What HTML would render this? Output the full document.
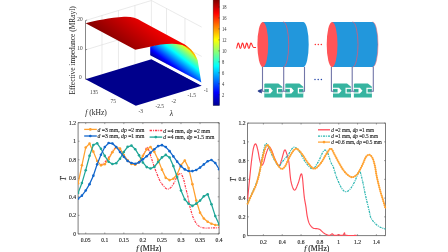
<!DOCTYPE html><html><head><meta charset="utf-8"><title>Figure</title><style>html,body{margin:0;padding:0;background:#fff;width:448px;height:252px;overflow:hidden}svg{display:block}text{font-family:"Liberation Serif","Times New Roman",serif}.s text{stroke:#222;stroke-width:0.12px}</style></head><body><svg width="448" height="252" viewBox="0 0 448 252"><defs><clipPath id="clipL"><rect x="78.1" y="122.7" width="141.0" height="111.2"/></clipPath></defs><path d="M85.50 49.85L151.40 29.85L201.70 56.45 M85.50 20.50L151.40 0.50L201.70 27.10 M101.97 74.20L101.97 15.50 M118.45 69.20L118.45 10.50 M134.93 64.20L134.93 5.50 M151.40 59.20L151.40 0.50 M166.49 67.18L166.49 8.48 M184.95 76.94L184.95 18.24" stroke="#dcdcdc" stroke-width="0.6" fill="none"/><path d="M85.50 79.20L85.50 20.50" stroke="#555" stroke-width="0.7" fill="none"/><path d="M85.50 79.20l1.6 -0.5" stroke="#555" stroke-width="0.6"/><path d="M85.50 49.85l1.6 -0.5" stroke="#555" stroke-width="0.6"/><path d="M85.50 20.50l1.6 -0.5" stroke="#555" stroke-width="0.6"/><path d="M85.50 79.20L151.40 59.20L201.70 85.80L135.80 105.80Z" fill="#00008c"/><defs><linearGradient id="gred" x1="110" y1="38.75" x2="135.8" y2="4.35" gradientUnits="userSpaceOnUse"><stop offset="0" stop-color="#8a0000"/><stop offset="0.55" stop-color="#cc0000"/><stop offset="0.85" stop-color="#f20000"/><stop offset="1" stop-color="#ff0a00"/></linearGradient><linearGradient id="gslope" x1="149.53" y1="55.61" x2="178.68" y2="17.32" gradientUnits="userSpaceOnUse"><stop offset="0" stop-color="#000080"/><stop offset="0.125" stop-color="#0000ff"/><stop offset="0.375" stop-color="#00ffff"/><stop offset="0.625" stop-color="#ffff00"/><stop offset="0.875" stop-color="#ff0000"/><stop offset="1" stop-color="#800000"/></linearGradient><linearGradient id="gjet" x1="0" y1="105.6" x2="0" y2="0" gradientUnits="userSpaceOnUse"><stop offset="0" stop-color="#000090"/><stop offset="0.125" stop-color="#0000ff"/><stop offset="0.375" stop-color="#00ffff"/><stop offset="0.625" stop-color="#ffff00"/><stop offset="0.875" stop-color="#ff0000"/><stop offset="1" stop-color="#800000"/></linearGradient></defs><path d="M150.2 46.4 C157 44.4, 165 43.3, 172 43.3 C178 43.4, 182 43.6, 186 45.6 C191 49.5, 195 54, 197.6 60 L198.6 66 L201.3 82.5 L198.5 80.8 L150.2 55.2 Z" fill="url(#gslope)"/><defs><linearGradient id="gedge" x1="182" y1="0" x2="198" y2="0" gradientUnits="userSpaceOnUse"><stop offset="0" stop-color="#ff2000"/><stop offset="0.45" stop-color="#ff8000"/><stop offset="0.8" stop-color="#ffc800"/><stop offset="1" stop-color="#ffe800" stop-opacity="0"/></linearGradient></defs><path d="M182.6 44.1 C185.6 45.7, 188.6 48, 190.6 50 C193 52.5, 195 55.5, 196.6 59" fill="none" stroke="url(#gedge)" stroke-width="1.5"/><path d="M85.6 23.2 C95 21, 110 17.5, 124 16.8 C131 16.5, 136 17.5, 142 21.5 L181 42.6 C183.5 44, 185.5 45.2, 187 46.8 C182 44.4, 178 43.8, 172 43.7 C165 43.7, 157 44.8, 150 46.8 L135.3 49.8 Z" fill="url(#gred)"/><path d="M150.6 57.3 L201.2 84.3" stroke="#fff" stroke-width="1.6"/><rect x="213.1" y="-1" width="6.5" height="106.6" fill="url(#gjet)" stroke="#333" stroke-width="0.4"/><path d="M219.6 94.78h-1.2" stroke="#222" stroke-width="0.5"/><text transform="translate(222.1 96.58) scale(0.84 1)" font-size="5.4" fill="#333">2</text><path d="M219.6 83.80h-1.2" stroke="#222" stroke-width="0.5"/><text transform="translate(222.1 85.60) scale(0.84 1)" font-size="5.4" fill="#333">4</text><path d="M219.6 72.83h-1.2" stroke="#222" stroke-width="0.5"/><text transform="translate(222.1 74.62) scale(0.84 1)" font-size="5.4" fill="#333">6</text><path d="M219.6 61.85h-1.2" stroke="#222" stroke-width="0.5"/><text transform="translate(222.1 63.65) scale(0.84 1)" font-size="5.4" fill="#333">8</text><path d="M219.6 50.88h-1.2" stroke="#222" stroke-width="0.5"/><text transform="translate(222.1 52.67) scale(0.84 1)" font-size="5.4" fill="#333">10</text><path d="M219.6 39.90h-1.2" stroke="#222" stroke-width="0.5"/><text transform="translate(222.1 41.70) scale(0.84 1)" font-size="5.4" fill="#333">12</text><path d="M219.6 28.92h-1.2" stroke="#222" stroke-width="0.5"/><text transform="translate(222.1 30.72) scale(0.84 1)" font-size="5.4" fill="#333">14</text><path d="M219.6 17.95h-1.2" stroke="#222" stroke-width="0.5"/><text transform="translate(222.1 19.75) scale(0.84 1)" font-size="5.4" fill="#333">16</text><path d="M219.6 6.98h-1.2" stroke="#222" stroke-width="0.5"/><text transform="translate(222.1 8.78) scale(0.84 1)" font-size="5.4" fill="#333">18</text><text x="81.6" y="79.00" text-anchor="end" font-size="5.4" fill="#3a3a3a">0</text><text x="82.6" y="50.45" text-anchor="end" font-size="5.4" fill="#3a3a3a">10</text><text x="82.6" y="21.10" text-anchor="end" font-size="5.4" fill="#3a3a3a">20</text><text x="94" y="93.6" text-anchor="middle" font-size="5.4" fill="#3a3a3a">135</text><text x="113.2" y="103.2" text-anchor="middle" font-size="5.4" fill="#3a3a3a">75</text><text x="140.8" y="112.7" text-anchor="middle" font-size="5.4" fill="#3a3a3a">-3</text><text x="159.7" y="107.7" text-anchor="middle" font-size="5.4" fill="#3a3a3a">-2.5</text><text x="173.7" y="102.7" text-anchor="middle" font-size="5.4" fill="#3a3a3a">-2</text><text x="191.7" y="97.3" text-anchor="middle" font-size="5.4" fill="#3a3a3a">-1.5</text><text x="206.0" y="92.1" text-anchor="middle" font-size="5.4" fill="#3a3a3a">-1</text><text x="96" y="115" text-anchor="middle" font-size="7.6" fill="#222"><tspan font-style="italic">f</tspan> (kHz)</text><text x="171.3" y="116" text-anchor="middle" font-size="7.6" fill="#222" font-style="italic">λ</text><text transform="translate(74.5 50.4) rotate(-90)" text-anchor="middle" font-size="7.4" fill="#222">Effective impedance (MRayl)</text><path d="M262.80 22.00 H303.30 A5.40 22.50 0 0 1 303.30 67.00 H262.80 Z" fill="#2297dc"/><path d="M283.30 22.00 A5.40 22.50 0 0 1 283.30 67.00" fill="none" stroke="#cc5f7d" stroke-width="0.85"/><ellipse cx="262.80" cy="44.50" rx="5.40" ry="22.50" fill="#ff5457"/><path d="M332.10 22.00 H372.60 A5.40 22.50 0 0 1 372.60 67.00 H332.10 Z" fill="#2297dc"/><path d="M352.60 22.00 A5.40 22.50 0 0 1 352.60 67.00" fill="none" stroke="#cc5f7d" stroke-width="0.85"/><ellipse cx="332.10" cy="44.50" rx="5.40" ry="22.50" fill="#ff5457"/><path d="M372.60 22 A5.4 22.5 0 0 1 372.60 67" fill="none" stroke="#f0707a" stroke-width="0.6"/><path d="M236.50 48.02 L236.62 47.77 L236.74 47.46 L236.86 47.09 L236.98 46.68 L237.10 46.23 L237.22 45.77 L237.35 45.30 L237.47 44.85 L237.59 44.43 L237.71 44.04 L237.83 43.71 L237.95 43.44 L238.07 43.25 L238.19 43.13 L238.31 43.10 L238.43 43.15 L238.55 43.28 L238.68 43.49 L238.80 43.77 L238.92 44.12 L239.04 44.51 L239.16 44.94 L239.28 45.40 L239.40 45.86 L239.52 46.32 L239.64 46.77 L239.76 47.17 L239.88 47.53 L240.00 47.83 L240.12 48.06 L240.25 48.22 L240.37 48.29 L240.49 48.28 L240.61 48.19 L240.73 48.02 L240.85 47.78 L240.97 47.46 L241.09 47.09 L241.21 46.68 L241.33 46.23 L241.45 45.77 L241.57 45.31 L241.70 44.85 L241.82 44.43 L241.94 44.04 L242.06 43.71 L242.18 43.45 L242.30 43.25 L242.42 43.13 L242.54 43.10 L242.66 43.15 L242.78 43.28 L242.90 43.49 L243.03 43.77 L243.15 44.11 L243.27 44.51 L243.39 44.94 L243.51 45.39 L243.63 45.86 L243.75 46.32 L243.87 46.76 L243.99 47.17 L244.11 47.53 L244.23 47.83 L244.35 48.06 L244.47 48.22 L244.60 48.29 L244.72 48.29 L244.84 48.19 L244.96 48.02 L245.08 47.78 L245.20 47.47 L245.32 47.10 L245.44 46.68 L245.56 46.24 L245.68 45.77 L245.80 45.31 L245.93 44.86 L246.05 44.43 L246.17 44.05 L246.29 43.71 L246.41 43.45 L246.53 43.25 L246.65 43.13 L246.77 43.10 L246.89 43.15 L247.01 43.28 L247.13 43.49 L247.25 43.77 L247.38 44.11 L247.50 44.50 L247.62 44.94 L247.74 45.39 L247.86 45.86 L247.98 46.32 L248.10 46.76 L248.22 47.17 L248.34 47.53 L248.46 47.83 L248.58 48.06 L248.70 48.22 L248.82 48.29 L248.95 48.29 L249.07 48.20 L249.19 48.02 L249.31 47.78 L249.43 47.47 L249.55 47.10 L249.67 46.69 L249.79 46.24 L249.91 45.78 L250.03 45.31 L250.15 44.86 L250.28 44.43 L250.40 44.05 L250.52 43.72 L250.64 43.45 L250.76 43.25 L250.88 43.14 L251.00 43.10 C252 43.1, 252.4 47.4, 253.6 47.5 L255.6 47.5" fill="none" stroke="#ff2a2a" stroke-width="1.1" stroke-linejoin="round" stroke-linecap="round"/><circle cx="315.3" cy="44.6" r="0.75" fill="#ff3030"/><circle cx="318.3" cy="44.6" r="0.75" fill="#ff3030"/><circle cx="321.3" cy="44.6" r="0.75" fill="#ff3030"/><circle cx="315.0" cy="79.6" r="0.75" fill="#2244aa"/><circle cx="318.2" cy="79.6" r="0.75" fill="#2244aa"/><circle cx="321.4" cy="79.6" r="0.75" fill="#2244aa"/><path d="M265.30 83.40 h13.0 l4.0 3.3 v10.7 h-18.0 v-13.0 q0 -1 1 -1 z" fill="#36b4a0"/><path d="M264.30 87.80 h6.0 l2.6 2.85 l-2.6 2.85 h-6.0 zM276.80 87.80 h5.5 v5.7 h-5.5 z" fill="#fff"/><rect x="264.30" y="88.90" width="4.6" height="3.5" fill="#36b4a0"/><rect x="278.00" y="88.90" width="4.3" height="3.5" fill="#36b4a0"/><path d="M265.10 90.65h1.1m0.7 0h1.1M278.60 90.65h1.1m0.7 0h1.1" stroke="#1f8a70" stroke-width="0.6"/><path d="M286.30 83.40 h13.0 l4.0 3.3 v10.7 h-18.0 v-13.0 q0 -1 1 -1 z" fill="#36b4a0"/><path d="M285.30 87.80 h6.0 l2.6 2.85 l-2.6 2.85 h-6.0 zM297.80 87.80 h5.5 v5.7 h-5.5 z" fill="#fff"/><rect x="285.30" y="88.90" width="4.6" height="3.5" fill="#36b4a0"/><rect x="299.00" y="88.90" width="4.3" height="3.5" fill="#36b4a0"/><path d="M286.10 90.65h1.1m0.7 0h1.1M299.60 90.65h1.1m0.7 0h1.1" stroke="#1f8a70" stroke-width="0.6"/><path d="M334.00 83.40 h13.0 l4.0 3.3 v10.7 h-18.0 v-13.0 q0 -1 1 -1 z" fill="#36b4a0"/><path d="M333.00 87.80 h6.0 l2.6 2.85 l-2.6 2.85 h-6.0 zM345.50 87.80 h5.5 v5.7 h-5.5 z" fill="#fff"/><rect x="333.00" y="88.90" width="4.6" height="3.5" fill="#36b4a0"/><rect x="346.70" y="88.90" width="4.3" height="3.5" fill="#36b4a0"/><path d="M333.80 90.65h1.1m0.7 0h1.1M347.30 90.65h1.1m0.7 0h1.1" stroke="#1f8a70" stroke-width="0.6"/><path d="M354.90 83.40 h13.0 l4.0 3.3 v10.7 h-18.0 v-13.0 q0 -1 1 -1 z" fill="#36b4a0"/><path d="M353.90 87.80 h6.0 l2.6 2.85 l-2.6 2.85 h-6.0 zM366.40 87.80 h5.5 v5.7 h-5.5 z" fill="#fff"/><rect x="353.90" y="88.90" width="4.6" height="3.5" fill="#36b4a0"/><rect x="367.60" y="88.90" width="4.3" height="3.5" fill="#36b4a0"/><path d="M354.70 90.65h1.1m0.7 0h1.1M368.20 90.65h1.1m0.7 0h1.1" stroke="#1f8a70" stroke-width="0.6"/><path d="M262.5 67 V91.2 H265 M283.7 67 V91.2 M281 91.2 H287 M304.5 67 V91.2 H302 M331.4 67 V91.2 H334 M352.2 67 V91.2 M350 91.2 H355 M373.3 67 V91.2 H370.5" fill="none" stroke="#7276a8" stroke-width="1.1"/><path d="M257.4 91.1 L261.8 88.8 L261.8 93.4 Z" fill="#2a3f8f"/><circle cx="259.6" cy="91.1" r="1.3" fill="#2a3f8f"/><g class="s"><path d="M78.10 122.70V233.90H219.10V122.70Z" fill="none" stroke="#5a5a5a" stroke-width="0.8"/><path d="M85.72 233.90v-1.4M85.72 122.70v1.4M104.78 233.90v-1.4M104.78 122.70v1.4M123.83 233.90v-1.4M123.83 122.70v1.4M142.88 233.90v-1.4M142.88 122.70v1.4M161.94 233.90v-1.4M161.94 122.70v1.4M180.99 233.90v-1.4M180.99 122.70v1.4M200.05 233.90v-1.4M200.05 122.70v1.4M219.10 233.90v-1.4M219.10 122.70v1.4M78.10 233.90h1.4M219.10 233.90h-1.4M78.10 215.37h1.4M219.10 215.37h-1.4M78.10 196.83h1.4M219.10 196.83h-1.4M78.10 178.30h1.4M219.10 178.30h-1.4M78.10 159.77h1.4M219.10 159.77h-1.4M78.10 141.23h1.4M219.10 141.23h-1.4M78.10 122.70h1.4M219.10 122.70h-1.4" stroke="#5a5a5a" stroke-width="0.6"/><text x="85.72" y="241.90" text-anchor="middle" font-size="5.6" fill="#222">0.05</text><text x="104.78" y="241.90" text-anchor="middle" font-size="5.6" fill="#222">0.1</text><text x="123.83" y="241.90" text-anchor="middle" font-size="5.6" fill="#222">0.15</text><text x="142.88" y="241.90" text-anchor="middle" font-size="5.6" fill="#222">0.2</text><text x="161.94" y="241.90" text-anchor="middle" font-size="5.6" fill="#222">0.25</text><text x="180.99" y="241.90" text-anchor="middle" font-size="5.6" fill="#222">0.3</text><text x="200.05" y="241.90" text-anchor="middle" font-size="5.6" fill="#222">0.35</text><text x="219.10" y="241.90" text-anchor="middle" font-size="5.6" fill="#222">0.4</text><text x="76.10" y="235.90" text-anchor="end" font-size="5.6" fill="#222">0</text><text x="76.10" y="217.37" text-anchor="end" font-size="5.6" fill="#222">0.2</text><text x="76.10" y="198.83" text-anchor="end" font-size="5.6" fill="#222">0.4</text><text x="76.10" y="180.30" text-anchor="end" font-size="5.6" fill="#222">0.6</text><text x="76.10" y="161.77" text-anchor="end" font-size="5.6" fill="#222">0.8</text><text x="76.10" y="143.23" text-anchor="end" font-size="5.6" fill="#222">1</text><text x="76.10" y="124.70" text-anchor="end" font-size="5.6" fill="#222">1.2</text><g clip-path="url(#clipL)"><polyline points="100.50,165.00 101.10,164.70 101.69,164.40 102.29,164.09 102.88,163.76 103.48,163.39 104.08,162.94 104.67,162.38 105.27,161.74 105.86,161.03 106.46,160.28 107.06,159.53 107.65,158.77 108.25,157.99 108.84,157.18 109.44,156.33 110.04,155.44 110.63,154.47 111.23,153.40 111.82,152.34 112.42,151.34 113.02,150.48 113.61,149.74 114.21,149.08 114.80,148.52 115.40,148.09 116.00,147.80 116.59,147.67 117.19,147.68 117.78,147.81 118.38,148.08 118.98,148.48 119.57,149.04 120.17,149.79 120.76,150.65 121.36,151.55 121.96,152.44 122.55,153.32 123.15,154.25 123.74,155.19 124.34,156.13 124.94,157.03 125.53,157.88 126.13,158.66 126.72,159.37 127.32,160.04 127.92,160.66 128.51,161.24 129.11,161.78 129.70,162.27 130.30,162.72 130.89,163.13 131.49,163.51 132.09,163.84 132.68,164.12 133.28,164.34 133.87,164.48 134.47,164.54 135.07,164.52 135.66,164.41 136.26,164.21 136.85,163.91 137.45,163.53 138.05,163.07 138.64,162.51 139.24,161.86 139.83,161.14 140.43,160.33 141.03,159.46 141.62,158.47 142.22,157.38 142.81,156.20 143.41,154.99 144.01,153.78 144.60,152.57 145.20,151.01 145.79,149.28 146.39,147.89 146.99,147.26 147.58,147.56 148.18,148.61 148.77,150.11 149.37,151.87 149.97,153.75 150.56,155.61 151.16,157.33 151.75,159.10 152.35,160.96 152.95,162.83 153.54,164.64 154.14,166.36 154.73,168.04 155.33,169.68 155.93,171.27 156.52,172.80 157.12,174.31 157.71,175.80 158.31,177.26 158.91,178.64 159.50,179.93 160.10,181.08 160.69,182.09 161.29,182.99 161.89,183.82 162.48,184.58 163.08,185.29 163.67,185.99 164.27,186.70 164.87,187.41 165.46,188.07 166.06,188.59 166.65,188.96 167.25,189.12 167.85,189.11 168.44,188.98 169.04,188.75 169.63,188.43 170.23,188.03 170.83,187.55 171.42,186.97 172.02,186.22 172.61,185.31 173.21,184.29 173.81,183.20 174.40,182.11 175.00,180.89 175.59,179.53 176.19,178.20 176.79,177.08 177.38,176.21 177.98,175.39 178.57,174.63 179.17,173.99 179.77,173.53 180.36,173.34 180.96,173.56 181.55,174.29 182.15,175.45 182.75,176.94 183.34,178.64 183.94,180.48 184.53,182.83 185.13,185.53 185.73,188.10 186.32,190.39 186.92,192.63 187.51,194.96 188.11,197.58 188.71,200.79 189.30,203.98 189.90,206.59 190.49,208.87 191.09,211.04 191.68,213.08 192.28,214.96 192.88,216.67 193.47,218.17 194.07,219.50 194.66,220.69 195.26,221.77 195.86,222.74 196.45,223.60 197.05,224.37 197.64,225.04 198.24,225.62 198.84,226.10 199.43,226.49 200.03,226.81 200.62,227.06 201.22,227.28 201.82,227.46 202.41,227.63 203.01,227.77 203.60,227.88 204.20,227.96 204.80,228.00 205.39,228.03 205.99,228.03 206.58,228.03 207.18,228.02 207.78,228.01 208.37,228.00 208.97,228.00 209.56,228.00 210.16,227.99 210.76,227.98 211.35,227.97 211.95,227.95 212.54,227.93 213.14,227.91 213.74,227.89 214.33,227.87 214.93,227.85 215.52,227.83 216.12,227.81 216.72,227.79 217.31,227.76 217.91,227.74 218.50,227.72 219.10,227.70" fill="none" stroke="#ff3a4a" stroke-width="1.2" stroke-dasharray="2.4 1 0.9 1"/><polyline points="78.10,183.40 81.91,165.26 85.72,147.48 89.53,143.65 93.34,151.63 97.15,161.00 100.96,165.34 104.78,164.25 108.59,159.15 112.40,152.19 116.21,147.24 120.02,148.54 123.83,155.05 127.64,160.34 131.45,164.00 135.26,164.77 139.07,161.94 142.88,155.76 146.69,149.44 150.51,147.06 154.32,151.78 158.13,159.69 161.94,169.63 165.75,177.85 169.56,180.12 173.37,178.72 177.18,174.24 180.99,165.15 184.80,160.51 188.61,168.05 192.42,184.14 196.24,200.49 200.05,212.63 203.86,218.54 207.67,221.79 211.48,223.78 215.29,224.96 219.10,225.10" fill="none" stroke="#ffa02e" stroke-width="1.25"/><circle cx="78.10" cy="183.40" r="1.3" fill="#ffa02e"/><circle cx="81.91" cy="165.26" r="1.3" fill="#ffa02e"/><circle cx="85.72" cy="147.48" r="1.3" fill="#ffa02e"/><circle cx="89.53" cy="143.65" r="1.3" fill="#ffa02e"/><circle cx="93.34" cy="151.63" r="1.3" fill="#ffa02e"/><circle cx="97.15" cy="161.00" r="1.3" fill="#ffa02e"/><circle cx="100.96" cy="165.34" r="1.3" fill="#ffa02e"/><circle cx="104.78" cy="164.25" r="1.3" fill="#ffa02e"/><circle cx="108.59" cy="159.15" r="1.3" fill="#ffa02e"/><circle cx="112.40" cy="152.19" r="1.3" fill="#ffa02e"/><circle cx="116.21" cy="147.24" r="1.3" fill="#ffa02e"/><circle cx="120.02" cy="148.54" r="1.3" fill="#ffa02e"/><circle cx="123.83" cy="155.05" r="1.3" fill="#ffa02e"/><circle cx="127.64" cy="160.34" r="1.3" fill="#ffa02e"/><circle cx="131.45" cy="164.00" r="1.3" fill="#ffa02e"/><circle cx="135.26" cy="164.77" r="1.3" fill="#ffa02e"/><circle cx="139.07" cy="161.94" r="1.3" fill="#ffa02e"/><circle cx="142.88" cy="155.76" r="1.3" fill="#ffa02e"/><circle cx="146.69" cy="149.44" r="1.3" fill="#ffa02e"/><circle cx="150.51" cy="147.06" r="1.3" fill="#ffa02e"/><circle cx="154.32" cy="151.78" r="1.3" fill="#ffa02e"/><circle cx="158.13" cy="159.69" r="1.3" fill="#ffa02e"/><circle cx="161.94" cy="169.63" r="1.3" fill="#ffa02e"/><circle cx="165.75" cy="177.85" r="1.3" fill="#ffa02e"/><circle cx="169.56" cy="180.12" r="1.3" fill="#ffa02e"/><circle cx="173.37" cy="178.72" r="1.3" fill="#ffa02e"/><circle cx="177.18" cy="174.24" r="1.3" fill="#ffa02e"/><circle cx="180.99" cy="165.15" r="1.3" fill="#ffa02e"/><circle cx="184.80" cy="160.51" r="1.3" fill="#ffa02e"/><circle cx="188.61" cy="168.05" r="1.3" fill="#ffa02e"/><circle cx="192.42" cy="184.14" r="1.3" fill="#ffa02e"/><circle cx="196.24" cy="200.49" r="1.3" fill="#ffa02e"/><circle cx="200.05" cy="212.63" r="1.3" fill="#ffa02e"/><circle cx="203.86" cy="218.54" r="1.3" fill="#ffa02e"/><circle cx="207.67" cy="221.79" r="1.3" fill="#ffa02e"/><circle cx="211.48" cy="223.78" r="1.3" fill="#ffa02e"/><circle cx="215.29" cy="224.96" r="1.3" fill="#ffa02e"/><circle cx="219.10" cy="225.10" r="1.3" fill="#ffa02e"/><polyline points="78.10,193.00 81.91,183.07 85.72,170.20 89.53,155.84 93.34,144.97 97.15,143.27 100.96,148.73 104.78,155.92 108.59,161.72 112.40,164.00 116.21,163.20 120.02,158.73 123.83,151.94 127.64,146.86 131.45,145.62 135.26,149.18 139.07,155.36 142.88,162.48 146.69,167.08 150.51,168.54 154.32,166.92 158.13,162.01 161.94,157.42 165.75,154.89 169.56,157.47 173.37,166.08 177.18,176.97 180.99,190.57 184.80,199.50 188.61,203.78 192.42,205.89 196.24,203.67 200.05,200.62 203.86,196.23 207.67,194.20 211.48,204.22 215.29,216.10 219.10,224.50" fill="none" stroke="#1ea596" stroke-width="1.25"/><circle cx="78.10" cy="193.00" r="1.3" fill="#1ea596"/><circle cx="81.91" cy="183.07" r="1.3" fill="#1ea596"/><circle cx="85.72" cy="170.20" r="1.3" fill="#1ea596"/><circle cx="89.53" cy="155.84" r="1.3" fill="#1ea596"/><circle cx="93.34" cy="144.97" r="1.3" fill="#1ea596"/><circle cx="97.15" cy="143.27" r="1.3" fill="#1ea596"/><circle cx="100.96" cy="148.73" r="1.3" fill="#1ea596"/><circle cx="104.78" cy="155.92" r="1.3" fill="#1ea596"/><circle cx="108.59" cy="161.72" r="1.3" fill="#1ea596"/><circle cx="112.40" cy="164.00" r="1.3" fill="#1ea596"/><circle cx="116.21" cy="163.20" r="1.3" fill="#1ea596"/><circle cx="120.02" cy="158.73" r="1.3" fill="#1ea596"/><circle cx="123.83" cy="151.94" r="1.3" fill="#1ea596"/><circle cx="127.64" cy="146.86" r="1.3" fill="#1ea596"/><circle cx="131.45" cy="145.62" r="1.3" fill="#1ea596"/><circle cx="135.26" cy="149.18" r="1.3" fill="#1ea596"/><circle cx="139.07" cy="155.36" r="1.3" fill="#1ea596"/><circle cx="142.88" cy="162.48" r="1.3" fill="#1ea596"/><circle cx="146.69" cy="167.08" r="1.3" fill="#1ea596"/><circle cx="150.51" cy="168.54" r="1.3" fill="#1ea596"/><circle cx="154.32" cy="166.92" r="1.3" fill="#1ea596"/><circle cx="158.13" cy="162.01" r="1.3" fill="#1ea596"/><circle cx="161.94" cy="157.42" r="1.3" fill="#1ea596"/><circle cx="165.75" cy="154.89" r="1.3" fill="#1ea596"/><circle cx="169.56" cy="157.47" r="1.3" fill="#1ea596"/><circle cx="173.37" cy="166.08" r="1.3" fill="#1ea596"/><circle cx="177.18" cy="176.97" r="1.3" fill="#1ea596"/><circle cx="180.99" cy="190.57" r="1.3" fill="#1ea596"/><circle cx="184.80" cy="199.50" r="1.3" fill="#1ea596"/><circle cx="188.61" cy="203.78" r="1.3" fill="#1ea596"/><circle cx="192.42" cy="205.89" r="1.3" fill="#1ea596"/><circle cx="196.24" cy="203.67" r="1.3" fill="#1ea596"/><circle cx="200.05" cy="200.62" r="1.3" fill="#1ea596"/><circle cx="203.86" cy="196.23" r="1.3" fill="#1ea596"/><circle cx="207.67" cy="194.20" r="1.3" fill="#1ea596"/><circle cx="211.48" cy="204.22" r="1.3" fill="#1ea596"/><circle cx="215.29" cy="216.10" r="1.3" fill="#1ea596"/><circle cx="219.10" cy="224.50" r="1.3" fill="#1ea596"/><polyline points="78.10,198.70 81.91,195.67 85.72,190.57 89.53,184.13 93.34,175.65 97.15,164.34 100.96,154.74 104.78,147.03 108.59,143.03 112.40,143.43 116.21,146.94 120.02,151.99 123.83,156.75 127.64,160.96 131.45,162.96 135.26,163.80 139.07,162.33 142.88,159.35 146.69,156.18 150.51,152.63 154.32,149.23 158.13,146.10 161.94,145.14 165.75,146.96 169.56,151.13 173.37,156.38 177.18,161.67 180.99,166.19 184.80,169.38 188.61,171.02 192.42,171.09 196.24,170.02 200.05,167.60 203.86,164.38 207.67,161.24 211.48,160.02 215.29,162.97 219.10,169.30" fill="none" stroke="#1166cc" stroke-width="1.25"/><circle cx="78.10" cy="198.70" r="1.3" fill="#1166cc"/><circle cx="81.91" cy="195.67" r="1.3" fill="#1166cc"/><circle cx="85.72" cy="190.57" r="1.3" fill="#1166cc"/><circle cx="89.53" cy="184.13" r="1.3" fill="#1166cc"/><circle cx="93.34" cy="175.65" r="1.3" fill="#1166cc"/><circle cx="97.15" cy="164.34" r="1.3" fill="#1166cc"/><circle cx="100.96" cy="154.74" r="1.3" fill="#1166cc"/><circle cx="104.78" cy="147.03" r="1.3" fill="#1166cc"/><circle cx="108.59" cy="143.03" r="1.3" fill="#1166cc"/><circle cx="112.40" cy="143.43" r="1.3" fill="#1166cc"/><circle cx="116.21" cy="146.94" r="1.3" fill="#1166cc"/><circle cx="120.02" cy="151.99" r="1.3" fill="#1166cc"/><circle cx="123.83" cy="156.75" r="1.3" fill="#1166cc"/><circle cx="127.64" cy="160.96" r="1.3" fill="#1166cc"/><circle cx="131.45" cy="162.96" r="1.3" fill="#1166cc"/><circle cx="135.26" cy="163.80" r="1.3" fill="#1166cc"/><circle cx="139.07" cy="162.33" r="1.3" fill="#1166cc"/><circle cx="142.88" cy="159.35" r="1.3" fill="#1166cc"/><circle cx="146.69" cy="156.18" r="1.3" fill="#1166cc"/><circle cx="150.51" cy="152.63" r="1.3" fill="#1166cc"/><circle cx="154.32" cy="149.23" r="1.3" fill="#1166cc"/><circle cx="158.13" cy="146.10" r="1.3" fill="#1166cc"/><circle cx="161.94" cy="145.14" r="1.3" fill="#1166cc"/><circle cx="165.75" cy="146.96" r="1.3" fill="#1166cc"/><circle cx="169.56" cy="151.13" r="1.3" fill="#1166cc"/><circle cx="173.37" cy="156.38" r="1.3" fill="#1166cc"/><circle cx="177.18" cy="161.67" r="1.3" fill="#1166cc"/><circle cx="180.99" cy="166.19" r="1.3" fill="#1166cc"/><circle cx="184.80" cy="169.38" r="1.3" fill="#1166cc"/><circle cx="188.61" cy="171.02" r="1.3" fill="#1166cc"/><circle cx="192.42" cy="171.09" r="1.3" fill="#1166cc"/><circle cx="196.24" cy="170.02" r="1.3" fill="#1166cc"/><circle cx="200.05" cy="167.60" r="1.3" fill="#1166cc"/><circle cx="203.86" cy="164.38" r="1.3" fill="#1166cc"/><circle cx="207.67" cy="161.24" r="1.3" fill="#1166cc"/><circle cx="211.48" cy="160.02" r="1.3" fill="#1166cc"/><circle cx="215.29" cy="162.97" r="1.3" fill="#1166cc"/><circle cx="219.10" cy="169.30" r="1.3" fill="#1166cc"/></g><path d="M84.20 129.40h12.6" stroke="#ffa02e" stroke-width="1.3" /><circle cx="90.3" cy="129.4" r="1.35" fill="#ffa02e"/><path d="M84.20 136.00h12.6" stroke="#1166cc" stroke-width="1.3" /><circle cx="90.3" cy="136.0" r="1.35" fill="#1166cc"/><path d="M149.60 130.50h12.6" stroke="#ff3a4a" stroke-width="1.3" stroke-dasharray="2.4 1 0.9 1"/><path d="M149.60 137.10h12.6" stroke="#1ea596" stroke-width="1.3" /><circle cx="155.8" cy="137.1" r="1.35" fill="#1ea596"/><text x="97.60" y="131.50" font-size="5.70" fill="#1a1a1a"><tspan font-style="italic">d</tspan> =3 mm, <tspan font-style="italic">dp</tspan> =2 mm</text><text x="97.60" y="138.10" font-size="5.70" fill="#1a1a1a"><tspan font-style="italic">d</tspan> =3 mm, <tspan font-style="italic">dp</tspan> =1 mm</text><text x="163.20" y="132.60" font-size="5.70" fill="#1a1a1a"><tspan font-style="italic">d</tspan> =4 mm, <tspan font-style="italic">dp</tspan> =2 mm</text><text x="163.20" y="139.20" font-size="5.70" fill="#1a1a1a"><tspan font-style="italic">d</tspan> =4 mm, <tspan font-style="italic">dp</tspan> =1.5 mm</text><text x="148.8" y="250.5" text-anchor="middle" font-size="7.8" fill="#222"><tspan font-style="italic">f</tspan> (MHz)</text><text transform="translate(66.3 178.6) rotate(-90)" text-anchor="middle" font-size="7.8" fill="#222" font-style="italic">T</text><path d="M247.50 123.10V235.60H385.50V123.10Z" fill="none" stroke="#5a5a5a" stroke-width="0.8"/><path d="M263.40 235.60v-1.4M263.40 123.10v1.4M282.23 235.60v-1.4M282.23 123.10v1.4M301.07 235.60v-1.4M301.07 123.10v1.4M319.90 235.60v-1.4M319.90 123.10v1.4M338.74 235.60v-1.4M338.74 123.10v1.4M357.57 235.60v-1.4M357.57 123.10v1.4M376.40 235.60v-1.4M376.40 123.10v1.4M247.50 235.60h1.4M385.50 235.60h-1.4M247.50 216.85h1.4M385.50 216.85h-1.4M247.50 198.10h1.4M385.50 198.10h-1.4M247.50 179.35h1.4M385.50 179.35h-1.4M247.50 160.60h1.4M385.50 160.60h-1.4M247.50 141.85h1.4M385.50 141.85h-1.4M247.50 123.10h1.4M385.50 123.10h-1.4" stroke="#5a5a5a" stroke-width="0.6"/><text x="263.40" y="243.60" text-anchor="middle" font-size="5.6" fill="#222">0.2</text><text x="282.23" y="243.60" text-anchor="middle" font-size="5.6" fill="#222">0.4</text><text x="301.07" y="243.60" text-anchor="middle" font-size="5.6" fill="#222">0.6</text><text x="319.90" y="243.60" text-anchor="middle" font-size="5.6" fill="#222">0.8</text><text x="338.74" y="243.60" text-anchor="middle" font-size="5.6" fill="#222">1</text><text x="357.57" y="243.60" text-anchor="middle" font-size="5.6" fill="#222">1.2</text><text x="376.40" y="243.60" text-anchor="middle" font-size="5.6" fill="#222">1.4</text><text x="245.50" y="237.60" text-anchor="end" font-size="5.6" fill="#222">0</text><text x="245.50" y="218.85" text-anchor="end" font-size="5.6" fill="#222">0.2</text><text x="245.50" y="200.10" text-anchor="end" font-size="5.6" fill="#222">0.4</text><text x="245.50" y="181.35" text-anchor="end" font-size="5.6" fill="#222">0.6</text><text x="245.50" y="162.60" text-anchor="end" font-size="5.6" fill="#222">0.8</text><text x="245.50" y="143.85" text-anchor="end" font-size="5.6" fill="#222">1</text><text x="245.50" y="125.10" text-anchor="end" font-size="5.6" fill="#222">1.2</text><polyline points="247.60,199.00 247.87,196.25 248.15,193.49 248.42,190.74 248.69,188.00 248.97,185.27 249.24,182.56 249.51,179.88 249.79,177.18 250.06,174.45 250.33,171.73 250.61,169.06 250.88,166.50 251.15,164.07 251.42,161.80 251.70,159.63 251.97,157.51 252.24,155.46 252.52,153.53 252.79,151.75 253.06,150.13 253.34,148.73 253.61,147.55 253.88,146.57 254.16,145.75 254.43,145.09 254.70,144.58 254.98,144.22 255.25,144.01 255.52,143.95 255.80,144.06 256.07,144.40 256.34,144.94 256.62,145.67 256.89,146.53 257.16,147.50 257.43,148.55 257.71,149.63 257.98,150.78 258.25,152.13 258.53,153.65 258.80,155.26 259.07,156.85 259.35,158.32 259.62,159.58 259.89,160.73 260.17,161.85 260.44,162.88 260.71,163.76 260.99,164.46 261.26,164.94 261.53,165.20 261.81,165.28 262.08,165.22 262.35,165.02 262.63,164.69 262.90,164.26 263.17,163.74 263.44,163.13 263.72,162.41 263.99,161.52 264.26,160.52 264.54,159.44 264.81,158.34 265.08,157.24 265.36,156.18 265.63,155.19 265.90,154.29 266.18,153.48 266.45,152.68 266.72,151.89 267.00,151.11 267.27,150.37 267.54,149.67 267.82,149.03 268.09,148.45 268.36,147.96 268.64,147.56 268.91,147.29 269.18,147.16 269.45,147.16 269.73,147.28 270.00,147.51 270.27,147.84 270.55,148.25 270.82,148.72 271.09,149.22 271.37,149.74 271.64,150.28 271.91,150.91 272.19,151.62 272.46,152.40 272.73,153.21 273.01,154.03 273.28,154.85 273.55,155.63 273.83,156.38 274.10,157.07 274.37,157.72 274.65,158.32 274.92,158.92 275.19,159.52 275.46,160.13 275.74,160.73 276.01,161.33 276.28,161.91 276.56,162.48 276.83,163.03 277.10,163.55 277.38,164.05 277.65,164.52 277.92,164.94 278.20,165.31 278.47,165.61 278.74,165.83 279.02,165.91 279.29,165.85 279.56,165.62 279.84,165.19 280.11,164.56 280.38,163.74 280.66,162.80 280.93,161.83 281.20,160.90 281.47,160.07 281.75,159.25 282.02,158.34 282.29,157.36 282.57,156.34 282.84,155.31 283.11,154.30 283.39,153.31 283.66,152.38 283.93,151.54 284.21,150.81 284.48,150.27 284.75,149.97 285.03,149.91 285.30,150.09 285.57,150.50 285.85,151.12 286.12,151.90 286.39,152.75 286.67,153.60 286.94,154.39 287.21,155.17 287.48,155.98 287.76,156.86 288.03,157.87 288.30,159.02 288.58,160.38 288.85,161.99 289.12,164.02 289.40,166.72 289.67,169.86 289.94,173.04 290.22,175.91 290.49,178.28 290.76,180.15 291.04,181.57 291.31,182.79 291.58,183.90 291.86,184.91 292.13,185.82 292.40,186.65 292.68,187.39 292.95,188.06 293.22,188.64 293.49,189.14 293.77,189.54 294.04,189.86 294.31,190.05 294.59,190.13 294.86,190.05 295.13,189.86 295.41,189.53 295.68,189.13 295.95,188.63 296.23,188.08 296.50,187.46 296.77,186.81 297.05,186.13 297.32,185.43 297.59,184.72 297.87,184.03 298.14,183.35 298.41,182.58 298.69,181.72 298.96,180.80 299.23,179.82 299.50,178.82 299.78,177.81 300.05,176.82 300.32,175.90 300.60,175.08 300.87,174.46 301.14,174.07 301.42,173.93 301.69,174.17 301.96,174.96 302.24,176.26 302.51,178.05 302.78,180.75 303.06,184.02 303.33,187.25 303.60,190.16 303.88,193.18 304.15,195.92 304.42,198.16 304.70,199.94 304.97,201.47 305.24,202.91 305.51,204.35 305.79,205.91 306.06,207.70 306.33,209.83 306.61,212.06 306.88,214.11 307.15,215.83 307.43,217.21 307.70,218.47 307.97,219.61 308.25,220.62 308.52,221.52 308.79,222.30 309.07,222.98 309.34,223.57 309.61,224.11 309.89,224.59 310.16,225.03 310.43,225.43 310.71,225.80 310.98,226.15 311.25,226.47 311.52,226.76 311.80,227.04 312.07,227.29 312.34,227.52 312.62,227.74 312.89,227.93 313.16,228.09 313.44,228.23 313.71,228.33 313.98,228.40 314.26,228.46 314.53,228.50 314.80,228.53 315.08,228.55 315.35,228.56 315.62,228.57 315.90,228.58 316.17,228.58 316.44,228.59 316.72,228.61 316.99,228.64 317.26,228.69 317.53,228.75 317.81,228.81 318.08,228.87 318.35,228.94 318.63,229.00 318.90,229.09 319.17,229.19 319.45,229.32 319.72,229.46 319.99,229.63 320.27,229.82 320.54,230.04 320.81,230.28 321.09,230.54 321.36,230.81 321.63,231.08 321.91,231.36 322.18,231.64 322.45,231.91 322.73,232.18 323.00,232.43 323.27,232.67 323.54,232.89 323.82,233.08 324.09,233.26 324.36,233.44 324.64,233.60 324.91,233.76 325.18,233.91 325.46,234.06 325.73,234.20 326.00,234.33 326.28,234.46 326.55,234.58 326.82,234.70 327.10,234.81 327.37,234.92 327.64,235.01 327.92,235.10 328.19,235.18 328.46,235.25 328.74,235.29 329.01,235.32 329.28,235.32 329.55,235.29 329.83,235.24 330.10,235.17 330.37,235.02 330.65,234.82 330.92,234.57 331.19,234.32 331.47,234.09 331.74,233.90 332.01,233.81 332.29,233.83 332.56,233.98 332.83,234.24 333.11,234.54 333.38,234.82 333.65,235.04 333.93,235.17 334.20,235.25 334.47,235.29 334.75,235.32 335.02,235.33 335.29,235.33 335.56,235.33 335.84,235.32 336.11,235.30 336.38,235.28 336.66,235.25 336.93,235.21 337.20,235.16 337.48,235.05 337.75,234.90 338.02,234.72 338.30,234.57 338.57,234.50 338.84,234.55 339.12,234.73 339.39,234.94 339.66,235.10 339.94,235.19 340.21,235.23 340.48,235.27 340.76,235.31 341.03,235.34 341.30,235.37 341.57,235.38 341.85,235.39 342.12,235.39 342.39,235.36 342.67,235.31 342.94,235.23 343.21,235.05 343.49,234.69 343.76,234.15 344.03,233.53 344.31,233.09 344.58,233.03 344.85,234.58 345.13,234.92 345.40,235.09 345.67,235.21 345.95,235.29 346.22,235.34 346.49,235.37 346.77,235.40 347.04,235.42 347.31,235.44 347.58,235.46 347.86,235.47 348.13,235.48 348.40,235.49 348.68,235.49 348.95,235.50 349.22,235.50 349.50,235.50 349.77,235.50 350.04,235.50 350.32,235.50 350.59,235.50 350.86,235.50 351.14,235.50 351.41,235.49 351.68,235.49 351.96,235.49 352.23,235.48 352.50,235.48 352.78,235.47 353.05,235.47 353.32,235.46 353.59,235.45 353.87,235.45 354.14,235.44 354.41,235.44 354.69,235.43 354.96,235.42 355.23,235.42 355.51,235.41 355.78,235.41 356.05,235.40 356.33,235.40 356.60,235.40" fill="none" stroke="#ff4a57" stroke-width="1.15"/><polyline points="247.60,203.70 247.95,202.89 248.29,202.09 248.64,201.28 248.98,200.48 249.33,199.67 249.67,198.87 250.02,198.06 250.36,197.26 250.71,196.45 251.06,195.64 251.40,194.84 251.75,194.03 252.09,193.22 252.44,192.41 252.78,191.61 253.13,190.82 253.48,190.04 253.82,189.27 254.17,188.49 254.51,187.70 254.86,186.90 255.20,186.07 255.55,185.20 255.89,184.29 256.24,183.34 256.59,182.38 256.93,181.40 257.28,180.38 257.62,179.30 257.97,178.14 258.31,176.88 258.66,175.51 259.01,174.03 259.35,172.40 259.70,170.62 260.04,168.76 260.39,166.83 260.73,164.88 261.08,162.93 261.42,161.01 261.77,159.17 262.12,157.43 262.46,155.77 262.81,154.14 263.15,152.56 263.50,151.03 263.84,149.55 264.19,148.16 264.54,146.88 264.88,145.68 265.23,144.65 265.57,144.00 265.92,143.73 266.26,143.68 266.61,143.85 266.95,144.22 267.30,144.74 267.65,145.34 267.99,145.98 268.34,146.67 268.68,147.41 269.03,148.18 269.37,148.96 269.72,149.76 270.06,150.57 270.41,151.38 270.76,152.18 271.10,152.98 271.45,153.78 271.79,154.55 272.14,155.30 272.48,156.05 272.83,156.80 273.18,157.55 273.52,158.29 273.87,158.99 274.21,159.65 274.56,160.27 274.90,160.85 275.25,161.41 275.59,161.99 275.94,162.59 276.29,163.18 276.63,163.74 276.98,164.27 277.32,164.75 277.67,165.16 278.01,165.50 278.36,165.74 278.71,165.88 279.05,165.88 279.40,165.76 279.74,165.52 280.09,165.18 280.43,164.76 280.78,164.27 281.12,163.75 281.47,163.21 281.82,162.67 282.16,162.14 282.51,161.64 282.85,161.18 283.20,160.77 283.54,160.36 283.89,159.96 284.24,159.57 284.58,159.17 284.93,158.77 285.27,158.38 285.62,157.98 285.96,157.58 286.31,157.17 286.65,156.76 287.00,156.35 287.35,155.92 287.69,155.49 288.04,155.05 288.38,154.57 288.73,154.05 289.07,153.50 289.42,152.93 289.76,152.34 290.11,151.74 290.46,151.15 290.80,150.57 291.15,150.01 291.49,149.48 291.84,148.99 292.18,148.54 292.53,148.14 292.88,147.80 293.22,147.54 293.57,147.36 293.91,147.25 294.26,147.22 294.60,147.24 294.95,147.33 295.29,147.47 295.64,147.65 295.99,147.88 296.33,148.15 296.68,148.46 297.02,148.79 297.37,149.15 297.71,149.54 298.06,149.94 298.41,150.36 298.75,150.79 299.10,151.22 299.44,151.66 299.79,152.13 300.13,152.65 300.48,153.22 300.82,153.83 301.17,154.48 301.52,155.15 301.86,155.83 302.21,156.53 302.55,157.22 302.90,157.90 303.24,158.56 303.59,159.21 303.94,159.81 304.28,160.39 304.63,160.93 304.97,161.42 305.32,161.89 305.66,162.35 306.01,162.81 306.35,163.27 306.70,163.73 307.05,164.17 307.39,164.61 307.74,165.04 308.08,165.46 308.43,165.87 308.77,166.25 309.12,166.63 309.46,166.98 309.81,167.31 310.16,167.61 310.50,167.89 310.85,168.13 311.19,168.34 311.54,168.51 311.88,168.63 312.23,168.69 312.58,168.69 312.92,168.63 313.27,168.50 313.61,168.31 313.96,168.06 314.30,167.75 314.65,167.39 314.99,166.98 315.34,166.52 315.69,166.02 316.03,165.50 316.38,164.95 316.72,164.38 317.07,163.81 317.41,163.24 317.76,162.68 318.11,162.13 318.45,161.54 318.80,160.89 319.14,160.20 319.49,159.47 319.83,158.72 320.18,157.94 320.52,157.16 320.87,156.37 321.22,155.58 321.56,154.80 321.91,154.04 322.25,153.32 322.60,152.63 322.94,151.99 323.29,151.44 323.64,150.98 323.98,150.62 324.33,150.35 324.67,150.18 325.02,150.11 325.36,150.15 325.71,150.31 326.05,150.60 326.40,150.98 326.75,151.45 327.09,151.97 327.44,152.54 327.78,153.23 328.13,154.06 328.47,154.99 328.82,156.00 329.16,157.06 329.51,158.15 329.86,159.25 330.20,160.33 330.55,161.36 330.89,162.28 331.24,163.07 331.58,163.75 331.93,164.33 332.28,164.88 332.62,165.47 332.97,166.19 333.31,167.03 333.66,168.01 334.00,169.09 334.35,170.22 334.69,171.39 335.04,172.55 335.39,173.68 335.73,174.77 336.08,175.80 336.42,176.77 336.77,177.67 337.11,178.54 337.46,179.39 337.81,180.22 338.15,181.05 338.50,181.85 338.84,182.64 339.19,183.41 339.53,184.17 339.88,184.90 340.22,185.61 340.57,186.30 340.92,186.95 341.26,187.57 341.61,188.15 341.95,188.68 342.30,189.18 342.64,189.63 342.99,190.05 343.34,190.41 343.68,190.73 344.03,191.00 344.37,191.23 344.72,191.41 345.06,191.54 345.41,191.64 345.75,191.69 346.10,191.71 346.45,191.68 346.79,191.60 347.14,191.48 347.48,191.32 347.83,191.12 348.17,190.89 348.52,190.63 348.86,190.33 349.21,190.01 349.56,189.67 349.90,189.31 350.25,188.92 350.59,188.49 350.94,188.04 351.28,187.55 351.63,187.03 351.98,186.48 352.32,185.91 352.67,185.32 353.01,184.71 353.36,184.08 353.70,183.44 354.05,182.79 354.39,182.12 354.74,181.40 355.09,180.65 355.43,179.87 355.78,179.07 356.12,178.26 356.47,177.43 356.81,176.61 357.16,175.79 357.51,174.99 357.85,174.22 358.20,173.50 358.54,172.83 358.89,172.09 359.23,171.38 359.58,171.17 359.92,171.57 360.27,172.29 360.62,173.27 360.96,174.45 361.31,175.77 361.65,177.18 362.00,178.64 362.34,180.13 362.69,181.64 363.04,183.23 363.38,184.90 363.73,186.60 364.07,188.33 364.42,190.06 364.76,191.78 365.11,193.47 365.45,195.11 365.80,196.70 366.15,198.22 366.49,199.71 366.84,201.17 367.18,202.61 367.53,204.03 367.87,205.43 368.22,206.83 368.56,208.22 368.91,209.62 369.26,211.04 369.60,212.64 369.95,214.58 370.29,216.17 370.64,217.20 370.98,217.97 371.33,218.61 371.68,219.17 372.02,219.68 372.37,220.16 372.71,220.62 373.06,221.05 373.40,221.46 373.75,221.86 374.09,222.24 374.44,222.62 374.79,222.98 375.13,223.34 375.48,223.68 375.82,224.02 376.17,224.35 376.51,224.67 376.86,224.96 377.21,225.24 377.55,225.50 377.90,225.75 378.24,225.99 378.59,226.21 378.93,226.43 379.28,226.63 379.62,226.83 379.97,227.02 380.32,227.20 380.66,227.38 381.01,227.55 381.35,227.70 381.70,227.84 382.04,227.97 382.39,228.09 382.74,228.20 383.08,228.31 383.43,228.41 383.77,228.51 384.12,228.61 384.46,228.70 384.81,228.80 385.15,228.90 385.50,229.00" fill="none" stroke="#2ab5b0" stroke-width="1.25" stroke-dasharray="2.2 0.9 1 0.9"/><polyline points="247.60,203.70 247.95,202.93 248.29,202.16 248.64,201.39 248.98,200.61 249.33,199.84 249.67,199.07 250.02,198.30 250.36,197.53 250.71,196.76 251.06,195.99 251.40,195.22 251.75,194.45 252.09,193.68 252.44,192.92 252.78,192.17 253.13,191.44 253.48,190.72 253.82,190.02 254.17,189.32 254.51,188.60 254.86,187.87 255.20,187.10 255.55,186.27 255.89,185.38 256.24,184.42 256.59,183.40 256.93,182.32 257.28,181.17 257.62,179.97 257.97,178.71 258.31,177.41 258.66,176.06 259.01,174.67 259.35,173.19 259.70,171.63 260.04,170.00 260.39,168.32 260.73,166.63 261.08,164.96 261.42,163.35 261.77,161.76 262.12,160.13 262.46,158.49 262.81,156.88 263.15,155.34 263.50,153.88 263.84,152.55 264.19,151.36 264.54,150.22 264.88,149.15 265.23,148.15 265.57,147.23 265.92,146.42 266.26,145.74 266.61,145.21 266.95,144.87 267.30,144.75 267.65,144.84 267.99,145.11 268.34,145.53 268.68,146.03 269.03,146.54 269.37,147.12 269.72,147.79 270.06,148.53 270.41,149.31 270.76,150.12 271.10,150.93 271.45,151.74 271.79,152.54 272.14,153.31 272.48,154.11 272.83,154.94 273.18,155.79 273.52,156.63 273.87,157.47 274.21,158.29 274.56,159.08 274.90,159.85 275.25,160.57 275.59,161.26 275.94,161.89 276.29,162.50 276.63,163.09 276.98,163.67 277.32,164.24 277.67,164.79 278.01,165.33 278.36,165.85 278.71,166.34 279.05,166.81 279.40,167.24 279.74,167.64 280.09,168.00 280.43,168.32 280.78,168.57 281.12,168.75 281.47,168.86 281.82,168.90 282.16,168.86 282.51,168.76 282.85,168.59 283.20,168.36 283.54,168.09 283.89,167.76 284.24,167.40 284.58,167.01 284.93,166.59 285.27,166.13 285.62,165.56 285.96,164.87 286.31,164.07 286.65,163.22 287.00,162.35 287.35,161.51 287.69,160.73 288.04,160.03 288.38,159.35 288.73,158.66 289.07,157.97 289.42,157.29 289.76,156.61 290.11,155.95 290.46,155.30 290.80,154.67 291.15,154.07 291.49,153.50 291.84,152.96 292.18,152.46 292.53,151.99 292.88,151.52 293.22,151.05 293.57,150.59 293.91,150.16 294.26,149.77 294.60,149.42 294.95,149.14 295.29,148.92 295.64,148.76 295.99,148.68 296.33,148.67 296.68,148.72 297.02,148.84 297.37,149.02 297.71,149.25 298.06,149.51 298.41,149.81 298.75,150.14 299.10,150.50 299.44,150.88 299.79,151.27 300.13,151.68 300.48,152.10 300.82,152.53 301.17,152.97 301.52,153.41 301.86,153.85 302.21,154.28 302.55,154.73 302.90,155.20 303.24,155.70 303.59,156.23 303.94,156.77 304.28,157.33 304.63,157.90 304.97,158.48 305.32,159.05 305.66,159.62 306.01,160.18 306.35,160.72 306.70,161.25 307.05,161.75 307.39,162.23 307.74,162.68 308.08,163.10 308.43,163.52 308.77,163.94 309.12,164.37 309.46,164.79 309.81,165.22 310.16,165.63 310.50,166.03 310.85,166.42 311.19,166.79 311.54,167.13 311.88,167.45 312.23,167.75 312.58,168.01 312.92,168.23 313.27,168.41 313.61,168.56 313.96,168.65 314.30,168.69 314.65,168.68 314.99,168.62 315.34,168.51 315.69,168.36 316.03,168.16 316.38,167.93 316.72,167.67 317.07,167.38 317.41,167.06 317.76,166.72 318.11,166.36 318.45,165.98 318.80,165.58 319.14,165.17 319.49,164.75 319.83,164.33 320.18,163.90 320.52,163.46 320.87,163.04 321.22,162.60 321.56,162.12 321.91,161.61 322.25,161.08 322.60,160.53 322.94,159.95 323.29,159.36 323.64,158.75 323.98,158.14 324.33,157.52 324.67,156.90 325.02,156.29 325.36,155.68 325.71,155.10 326.05,154.53 326.40,153.99 326.75,153.49 327.09,152.97 327.44,152.42 327.78,151.86 328.13,151.30 328.47,150.76 328.82,150.24 329.16,149.77 329.51,149.36 329.86,149.03 330.20,148.81 330.55,148.70 330.89,148.70 331.24,148.85 331.58,149.13 331.93,149.53 332.28,150.05 332.62,150.66 332.97,151.34 333.31,152.06 333.66,152.80 334.00,153.54 334.35,154.26 334.69,154.94 335.04,155.57 335.39,156.19 335.73,156.82 336.08,157.47 336.42,158.12 336.77,158.77 337.11,159.43 337.46,160.09 337.81,160.74 338.15,161.39 338.50,162.04 338.84,162.67 339.19,163.29 339.53,163.90 339.88,164.50 340.22,165.08 340.57,165.66 340.92,166.25 341.26,166.84 341.61,167.42 341.95,168.00 342.30,168.56 342.64,169.10 342.99,169.63 343.34,170.13 343.68,170.61 344.03,171.06 344.37,171.49 344.72,171.89 345.06,172.27 345.41,172.63 345.75,172.99 346.10,173.35 346.45,173.69 346.79,174.03 347.14,174.36 347.48,174.68 347.83,174.98 348.17,175.28 348.52,175.56 348.86,175.82 349.21,176.07 349.56,176.30 349.90,176.51 350.25,176.70 350.59,176.87 350.94,177.01 351.28,177.11 351.63,177.19 351.98,177.22 352.32,177.23 352.67,177.19 353.01,177.13 353.36,177.03 353.70,176.91 354.05,176.75 354.39,176.57 354.74,176.36 355.09,176.12 355.43,175.85 355.78,175.56 356.12,175.25 356.47,174.92 356.81,174.56 357.16,174.19 357.51,173.79 357.85,173.36 358.20,172.89 358.54,172.37 358.89,171.82 359.23,171.23 359.58,170.60 359.92,169.95 360.27,169.28 360.62,168.59 360.96,167.88 361.31,167.17 361.65,166.44 362.00,165.72 362.34,165.02 362.69,164.31 363.04,163.56 363.38,162.74 363.73,161.89 364.07,161.00 364.42,160.11 364.76,159.25 365.11,158.47 365.45,157.78 365.80,157.20 366.15,156.71 366.49,156.27 366.84,155.88 367.18,155.54 367.53,155.25 367.87,155.02 368.22,154.85 368.56,154.74 368.91,154.69 369.26,154.71 369.60,154.80 369.95,154.95 370.29,155.16 370.64,155.43 370.98,155.76 371.33,156.15 371.68,156.61 372.02,157.13 372.37,157.74 372.71,158.45 373.06,159.30 373.40,160.28 373.75,161.39 374.09,162.61 374.44,163.95 374.79,165.38 375.13,166.91 375.48,168.80 375.82,171.12 376.17,173.42 376.51,175.38 376.86,177.04 377.21,178.60 377.55,180.11 377.90,181.58 378.24,183.02 378.59,184.43 378.93,185.83 379.28,187.20 379.62,188.56 379.97,189.89 380.32,191.17 380.66,192.38 381.01,193.53 381.35,194.63 381.70,195.71 382.04,196.81 382.39,197.93 382.74,199.09 383.08,200.26 383.43,201.43 383.77,202.61 384.12,203.79 384.46,204.96 384.81,206.14 385.15,207.32 385.50,208.50" fill="none" stroke="#ffa02e" stroke-width="0.8"/><circle cx="247.60" cy="203.70" r="1.05" fill="#ffa02e"/><circle cx="248.44" cy="201.83" r="1.05" fill="#ffa02e"/><circle cx="249.28" cy="199.96" r="1.05" fill="#ffa02e"/><circle cx="250.11" cy="198.09" r="1.05" fill="#ffa02e"/><circle cx="250.95" cy="196.22" r="1.05" fill="#ffa02e"/><circle cx="251.79" cy="194.35" r="1.05" fill="#ffa02e"/><circle cx="252.64" cy="192.48" r="1.05" fill="#ffa02e"/><circle cx="253.52" cy="190.63" r="1.05" fill="#ffa02e"/><circle cx="254.42" cy="188.79" r="1.05" fill="#ffa02e"/><circle cx="255.28" cy="186.92" r="1.05" fill="#ffa02e"/><circle cx="256.03" cy="185.02" r="1.05" fill="#ffa02e"/><circle cx="256.69" cy="183.08" r="1.05" fill="#ffa02e"/><circle cx="257.29" cy="181.12" r="1.05" fill="#ffa02e"/><circle cx="257.85" cy="179.15" r="1.05" fill="#ffa02e"/><circle cx="258.38" cy="177.16" r="1.05" fill="#ffa02e"/><circle cx="258.88" cy="175.18" r="1.05" fill="#ffa02e"/><circle cx="259.35" cy="173.18" r="1.05" fill="#ffa02e"/><circle cx="259.79" cy="171.18" r="1.05" fill="#ffa02e"/><circle cx="260.21" cy="169.17" r="1.05" fill="#ffa02e"/><circle cx="260.62" cy="167.17" r="1.05" fill="#ffa02e"/><circle cx="261.04" cy="165.16" r="1.05" fill="#ffa02e"/><circle cx="261.47" cy="163.15" r="1.05" fill="#ffa02e"/><circle cx="261.90" cy="161.15" r="1.05" fill="#ffa02e"/><circle cx="262.32" cy="159.14" r="1.05" fill="#ffa02e"/><circle cx="262.75" cy="157.14" r="1.05" fill="#ffa02e"/><circle cx="263.20" cy="155.14" r="1.05" fill="#ffa02e"/><circle cx="263.69" cy="153.15" r="1.05" fill="#ffa02e"/><circle cx="264.24" cy="151.17" r="1.05" fill="#ffa02e"/><circle cx="264.86" cy="149.22" r="1.05" fill="#ffa02e"/><circle cx="265.55" cy="147.29" r="1.05" fill="#ffa02e"/><circle cx="266.45" cy="145.45" r="1.05" fill="#ffa02e"/><circle cx="268.06" cy="145.20" r="1.05" fill="#ffa02e"/><circle cx="269.23" cy="146.88" r="1.05" fill="#ffa02e"/><circle cx="270.15" cy="148.71" r="1.05" fill="#ffa02e"/><circle cx="270.96" cy="150.60" r="1.05" fill="#ffa02e"/><circle cx="271.77" cy="152.48" r="1.05" fill="#ffa02e"/><circle cx="272.59" cy="154.36" r="1.05" fill="#ffa02e"/><circle cx="273.37" cy="156.25" r="1.05" fill="#ffa02e"/><circle cx="274.15" cy="158.15" r="1.05" fill="#ffa02e"/><circle cx="274.99" cy="160.02" r="1.05" fill="#ffa02e"/><circle cx="275.92" cy="161.85" r="1.05" fill="#ffa02e"/><circle cx="276.95" cy="163.62" r="1.05" fill="#ffa02e"/><circle cx="278.03" cy="165.36" r="1.05" fill="#ffa02e"/><circle cx="279.22" cy="167.02" r="1.05" fill="#ffa02e"/><circle cx="280.66" cy="168.48" r="1.05" fill="#ffa02e"/><circle cx="282.59" cy="168.72" r="1.05" fill="#ffa02e"/><circle cx="284.18" cy="167.45" r="1.05" fill="#ffa02e"/><circle cx="285.44" cy="165.84" r="1.05" fill="#ffa02e"/><circle cx="286.34" cy="164.00" r="1.05" fill="#ffa02e"/><circle cx="287.10" cy="162.10" r="1.05" fill="#ffa02e"/><circle cx="287.94" cy="160.23" r="1.05" fill="#ffa02e"/><circle cx="288.86" cy="158.40" r="1.05" fill="#ffa02e"/><circle cx="289.79" cy="156.57" r="1.05" fill="#ffa02e"/><circle cx="290.75" cy="154.76" r="1.05" fill="#ffa02e"/><circle cx="291.81" cy="153.00" r="1.05" fill="#ffa02e"/><circle cx="293.01" cy="151.34" r="1.05" fill="#ffa02e"/><circle cx="294.29" cy="149.74" r="1.05" fill="#ffa02e"/><circle cx="296.00" cy="148.68" r="1.05" fill="#ffa02e"/><circle cx="297.87" cy="149.37" r="1.05" fill="#ffa02e"/><circle cx="299.35" cy="150.78" r="1.05" fill="#ffa02e"/><circle cx="300.67" cy="152.34" r="1.05" fill="#ffa02e"/><circle cx="301.94" cy="153.95" r="1.05" fill="#ffa02e"/><circle cx="303.17" cy="155.59" r="1.05" fill="#ffa02e"/><circle cx="304.27" cy="157.32" r="1.05" fill="#ffa02e"/><circle cx="305.33" cy="159.08" r="1.05" fill="#ffa02e"/><circle cx="306.42" cy="160.82" r="1.05" fill="#ffa02e"/><circle cx="307.59" cy="162.49" r="1.05" fill="#ffa02e"/><circle cx="308.89" cy="164.08" r="1.05" fill="#ffa02e"/><circle cx="310.19" cy="165.67" r="1.05" fill="#ffa02e"/><circle cx="311.58" cy="167.17" r="1.05" fill="#ffa02e"/><circle cx="313.22" cy="168.39" r="1.05" fill="#ffa02e"/><circle cx="315.20" cy="168.55" r="1.05" fill="#ffa02e"/><circle cx="316.94" cy="167.49" r="1.05" fill="#ffa02e"/><circle cx="318.39" cy="166.04" r="1.05" fill="#ffa02e"/><circle cx="319.71" cy="164.47" r="1.05" fill="#ffa02e"/><circle cx="321.00" cy="162.88" r="1.05" fill="#ffa02e"/><circle cx="322.18" cy="161.20" r="1.05" fill="#ffa02e"/><circle cx="323.24" cy="159.45" r="1.05" fill="#ffa02e"/><circle cx="324.25" cy="157.66" r="1.05" fill="#ffa02e"/><circle cx="325.25" cy="155.88" r="1.05" fill="#ffa02e"/><circle cx="326.32" cy="154.12" r="1.05" fill="#ffa02e"/><circle cx="327.44" cy="152.41" r="1.05" fill="#ffa02e"/><circle cx="328.53" cy="150.67" r="1.05" fill="#ffa02e"/><circle cx="329.81" cy="149.08" r="1.05" fill="#ffa02e"/><circle cx="331.61" cy="149.16" r="1.05" fill="#ffa02e"/><circle cx="332.73" cy="150.87" r="1.05" fill="#ffa02e"/><circle cx="333.62" cy="152.72" r="1.05" fill="#ffa02e"/><circle cx="334.50" cy="154.56" r="1.05" fill="#ffa02e"/><circle cx="335.48" cy="156.37" r="1.05" fill="#ffa02e"/><circle cx="336.45" cy="158.17" r="1.05" fill="#ffa02e"/><circle cx="337.41" cy="159.99" r="1.05" fill="#ffa02e"/><circle cx="338.37" cy="161.80" r="1.05" fill="#ffa02e"/><circle cx="339.36" cy="163.59" r="1.05" fill="#ffa02e"/><circle cx="340.39" cy="165.36" r="1.05" fill="#ffa02e"/><circle cx="341.43" cy="167.13" r="1.05" fill="#ffa02e"/><circle cx="342.50" cy="168.88" r="1.05" fill="#ffa02e"/><circle cx="343.65" cy="170.57" r="1.05" fill="#ffa02e"/><circle cx="344.96" cy="172.15" r="1.05" fill="#ffa02e"/><circle cx="346.38" cy="173.63" r="1.05" fill="#ffa02e"/><circle cx="347.88" cy="175.03" r="1.05" fill="#ffa02e"/><circle cx="349.51" cy="176.27" r="1.05" fill="#ffa02e"/><circle cx="351.36" cy="177.13" r="1.05" fill="#ffa02e"/><circle cx="353.38" cy="177.03" r="1.05" fill="#ffa02e"/><circle cx="355.17" cy="176.05" r="1.05" fill="#ffa02e"/><circle cx="356.69" cy="174.68" r="1.05" fill="#ffa02e"/><circle cx="358.02" cy="173.13" r="1.05" fill="#ffa02e"/><circle cx="359.13" cy="171.40" r="1.05" fill="#ffa02e"/><circle cx="360.11" cy="169.60" r="1.05" fill="#ffa02e"/><circle cx="361.02" cy="167.76" r="1.05" fill="#ffa02e"/><circle cx="361.91" cy="165.92" r="1.05" fill="#ffa02e"/><circle cx="362.80" cy="164.07" r="1.05" fill="#ffa02e"/><circle cx="363.61" cy="162.19" r="1.05" fill="#ffa02e"/><circle cx="364.35" cy="160.28" r="1.05" fill="#ffa02e"/><circle cx="365.15" cy="158.39" r="1.05" fill="#ffa02e"/><circle cx="366.20" cy="156.64" r="1.05" fill="#ffa02e"/><circle cx="367.64" cy="155.18" r="1.05" fill="#ffa02e"/><circle cx="369.57" cy="154.79" r="1.05" fill="#ffa02e"/><circle cx="371.19" cy="155.99" r="1.05" fill="#ffa02e"/><circle cx="372.34" cy="157.69" r="1.05" fill="#ffa02e"/><circle cx="373.15" cy="159.57" r="1.05" fill="#ffa02e"/><circle cx="373.79" cy="161.52" r="1.05" fill="#ffa02e"/><circle cx="374.32" cy="163.50" r="1.05" fill="#ffa02e"/><circle cx="374.81" cy="165.49" r="1.05" fill="#ffa02e"/><circle cx="375.24" cy="167.49" r="1.05" fill="#ffa02e"/><circle cx="375.58" cy="169.51" r="1.05" fill="#ffa02e"/><circle cx="375.89" cy="171.54" r="1.05" fill="#ffa02e"/><circle cx="376.19" cy="173.57" r="1.05" fill="#ffa02e"/><circle cx="376.56" cy="175.58" r="1.05" fill="#ffa02e"/><circle cx="376.98" cy="177.59" r="1.05" fill="#ffa02e"/><circle cx="377.43" cy="179.59" r="1.05" fill="#ffa02e"/><circle cx="377.90" cy="181.58" r="1.05" fill="#ffa02e"/><circle cx="378.38" cy="183.58" r="1.05" fill="#ffa02e"/><circle cx="378.87" cy="185.57" r="1.05" fill="#ffa02e"/><circle cx="379.37" cy="187.56" r="1.05" fill="#ffa02e"/><circle cx="379.88" cy="189.54" r="1.05" fill="#ffa02e"/><circle cx="380.42" cy="191.52" r="1.05" fill="#ffa02e"/><circle cx="380.99" cy="193.49" r="1.05" fill="#ffa02e"/><circle cx="381.61" cy="195.44" r="1.05" fill="#ffa02e"/><circle cx="382.23" cy="197.40" r="1.05" fill="#ffa02e"/><circle cx="382.81" cy="199.36" r="1.05" fill="#ffa02e"/><circle cx="383.39" cy="201.33" r="1.05" fill="#ffa02e"/><circle cx="383.97" cy="203.29" r="1.05" fill="#ffa02e"/><circle cx="384.55" cy="205.26" r="1.05" fill="#ffa02e"/><circle cx="385.13" cy="207.23" r="1.05" fill="#ffa02e"/><path d="M318 129.8h12" stroke="#ff4a57" stroke-width="1.3"/><path d="M318 136.1h12" stroke="#2ab5b0" stroke-width="1.3" stroke-dasharray="2.2 0.9 1 0.9"/><path d="M318 142.1h12" stroke="#ffa02e" stroke-width="1.2"/><circle cx="324" cy="142.1" r="1.3" fill="#ffa02e"/><text x="331.30" y="131.80" font-size="5.20" fill="#1a1a1a"><tspan font-style="italic">d</tspan> =2 mm, <tspan font-style="italic">dp</tspan> =1 mm</text><text x="331.30" y="138.10" font-size="5.20" fill="#1a1a1a"><tspan font-style="italic">d</tspan> =1 mm, <tspan font-style="italic">dp</tspan> =0.5 mm</text><text x="331.30" y="144.10" font-size="5.20" fill="#1a1a1a"><tspan font-style="italic">d</tspan> =0.6 mm, <tspan font-style="italic">dp</tspan> =0.5 mm</text><text x="316.8" y="250.8" text-anchor="middle" font-size="7.8" fill="#222"><tspan font-style="italic">f</tspan> (MHz)</text><text transform="translate(236.4 179.6) rotate(-90)" text-anchor="middle" font-size="7.8" fill="#222" font-style="italic">T</text></g></svg></body></html>
